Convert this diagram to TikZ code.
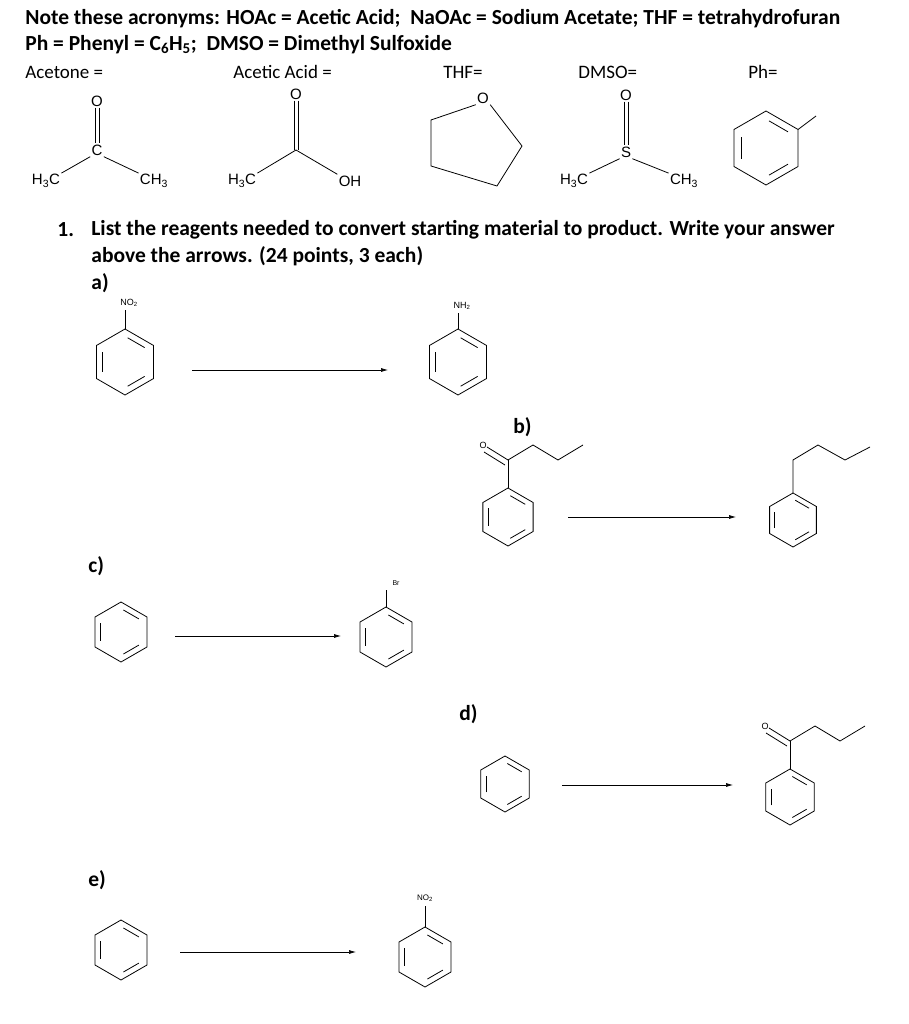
\documentclass[tikz,border=0pt]{standalone}
\usepackage{fontspec}
\setmainfont{Carlito}
\newfontfamily\chem{Liberation Sans}
\usetikzlibrary{arrows.meta,calc}
\newcommand\benz[3]{%
\begin{scope}[shift={(#1,#2)}]
\draw (-90:#3)--(-30:#3)--(30:#3)--(90:#3)--(150:#3)--(210:#3)--cycle;
\draw ($(-90:0.78*#3)!0.12!(-30:0.78*#3)$)--($(-90:0.78*#3)!0.88!(-30:0.78*#3)$);
\draw ($(30:0.78*#3)!0.12!(90:0.78*#3)$)--($(30:0.78*#3)!0.88!(90:0.78*#3)$);
\draw ($(150:0.78*#3)!0.12!(210:0.78*#3)$)--($(150:0.78*#3)!0.88!(210:0.78*#3)$);
\end{scope}}
\newcommand\butanoyl[2]{% carbonyl C position
\draw (#1,#2)--++(25,-15)--++(25,15)--++(25,-15);
\draw (#1,#2)--++(-21,-13);
\draw ($(#1,#2)+(-3,5)$)--++(-21,-13);
\node[font=\chem\fontsize{9}{9}\selectfont,anchor=east,inner sep=1pt] at ($(#1,#2)+(-20,-15)$) {O};}
\begin{document}
\begin{tikzpicture}[x=1pt,y=-1pt,line width=0.8pt,
 hdr/.style={anchor=west,inner sep=0pt,font=\fontsize{21.5}{24}\selectfont\bfseries},
 lab/.style={anchor=west,inner sep=0pt,font=\fontsize{19}{22}\selectfont},
 atom/.style={inner sep=1pt,font=\chem\fontsize{15}{15}\selectfont},
 small/.style={inner sep=1pt,font=\chem\fontsize{9}{9}\selectfont},
 rxn/.style={line width=0.7pt,-{Latex[length=7pt,width=4pt]}}]
\useasboundingbox (0,0) rectangle (909,1024);
\fill[white] (0,0) rectangle (909,1024);
\node[hdr] (h1) at (25,19) {Note these acronyms: HOAc = Acetic Acid;\ \ NaOAc = Sodium Acetate; THF = tetrahydrofuran};
\node[hdr] (h2) at (25,45) {Ph = Phenyl = C\textsubscript{6}H\textsubscript{5};\ \ DMSO = Dimethyl Sulfoxide};
\node[lab] (l1) at (25,72) {Acetone =};
\node[lab] (l2) at (233,72) {Acetic Acid =};
\node[lab] (l3) at (443,72) {THF=};
\node[lab] (l4) at (578,72) {DMSO=};
\node[lab] (l5) at (748,72) {Ph=};
% acetone
\node[atom] (aO) at (97,101) {O};
\node[atom] (aC) at (97,150) {C};
\node[atom] (aL) at (46,181) {H\textsubscript{3}C};
\node[atom] (aR) at (154,181) {CH\textsubscript{3}};
\draw ([xshift=-2]aO.south)--([xshift=-2]aC.north) ([xshift=2]aO.south)--([xshift=2]aC.north);
\draw (aC.south west)--(aL.north east) (aC.south east)--(aR.north west);
% acetic acid
\node[atom] (bO) at (296,94) {O};
\coordinate (bC) at (296,150);
\node[atom] (bL) at (242,181) {H\textsubscript{3}C};
\node[atom] (bR) at (350,181) {OH};
\draw ([xshift=-2]bO.south)--([xshift=-2]bC) ([xshift=2]bO.south)--([xshift=2]bC);
\draw (bC)--(bL.north east) (bC)--(bR.north west);
% THF
\node[atom] (tO) at (483,98) {O};
\draw (tO.south east)--(522,146)--(497,186)--(431,166)--(431,120)--(tO.south west);
% DMSO
\node[atom] (dO) at (626,95) {O};
\node[atom] (dS) at (626,152) {S};
\node[atom] (dL) at (574,181) {H\textsubscript{3}C};
\node[atom] (dR) at (684,181) {CH\textsubscript{3}};
\draw ([xshift=-2]dO.south)--([xshift=-2]dS.north) ([xshift=2]dO.south)--([xshift=2]dS.north);
\draw (dS.south west)--(dL.north east) (dS.south east)--(dR.north west);
% Ph
\benz{766}{148}{37}
\draw (798,129.5)--(816,116);
% question
\node[hdr] (q1) at (57,230) {1.};
\node[hdr] (q2) at (91,230) {List the reagents needed to convert starting material to product. Write your answer};
\node[hdr] (q3) at (91,256) {above the arrows. (24 points, 3 each)};
\node[hdr] (pa) at (91,283) {a)};
\node[hdr] (pb) at (513,427) {b)};
\node[hdr] (pc) at (88,566) {c)};
\node[hdr] (pd) at (459,714) {d)};
\node[hdr] (pe) at (88,880) {e)};
% a
\benz{125}{362}{33}
\node[small] (n1) at (129,303) {NO\textsubscript{2}};
\draw (125,329)--(125,310);
\coordinate (a1) at (192,370); \coordinate (a2) at (388,370);
\draw[rxn] (a1)--(a2);
\benz{458}{362}{33}
\node[small] (n2) at (462,306) {NH\textsubscript{2}};
\draw (458,329)--(458,313);
% b
\benz{508}{517}{29}
\draw (508,488)--(508,460);
\butanoyl{508}{460}
\coordinate (b1) at (568,517); \coordinate (b2) at (736,517);
\draw[rxn] (b1)--(b2);
\benz{793}{520}{27}
\draw (793,493)--(793,460)--(818,445)--(845,460)--(870,447);
% c
\benz{121}{632}{30}
\coordinate (c1) at (175,636); \coordinate (c2) at (341,636);
\draw[rxn] (c1)--(c2);
\benz{386}{637}{30}
\node[font=\chem\fontsize{7}{7}\selectfont,inner sep=1pt] (br) at (396,583) {Br};
\draw (386,607)--(386,590);
% d
\benz{505}{784}{28}
\coordinate (d1) at (562,785); \coordinate (d2) at (733,785);
\draw[rxn] (d1)--(d2);
\benz{790}{797}{28}
\draw (790,769)--(790,741);
\butanoyl{790}{741}
% e
\benz{121}{950}{30}
\coordinate (e1) at (180,952); \coordinate (e2) at (356,952);
\draw[rxn] (e1)--(e2);
\benz{425}{957}{30}
\node[font=\chem\fontsize{8}{8}\selectfont,inner sep=1pt] (n3) at (425,898) {NO\textsubscript{2}};
\draw (425,927)--(425,906);
\end{tikzpicture}
\end{document}
